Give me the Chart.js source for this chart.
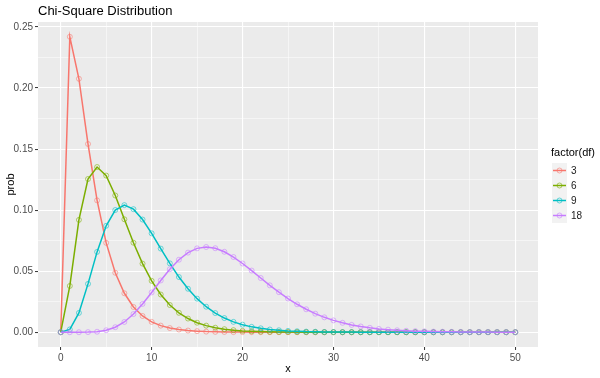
<!DOCTYPE html>
<html>
<head>
<meta charset="utf-8">
<script src="https://cdn.jsdelivr.net/npm/chart.js@4"></script>
<style>
  html, body { margin: 0; padding: 0; background: #fff; }
  canvas { display: block; }
</style>
</head>
<body>
<canvas id="chart" width="600" height="378"></canvas>
<script>
// x values 0..50 (one point per integer)
const xs = [0,1,2,3,4,5,6,7,8,9,10,11,12,13,14,15,16,17,18,19,20,21,22,23,24,25,
  26,27,28,29,30,31,32,33,34,35,36,37,38,39,40,41,42,43,44,45,46,47,48,49,50];

const dfLabels = ["3", "6", "9", "18"];
const dfColors = ["#F8766D", "#7CAE00", "#00BFC4", "#C77CFF"];

// prob
const prob3 = [0, 0.242, 0.2076, 0.1542, 0.108, 0.0732, 0.0487, 0.0319, 0.0207, 0.0133,
  0.0085, 0.0054, 0.0034, 0.0022, 0.0014, 0.0009, 0.0005, 0.0003, 0.0002, 0.0001,
  0.0001, 0.00005, 0.00003, 0.00002, 0.00001, 0.00001, 0, 0, 0, 0,
  0, 0, 0, 0, 0, 0, 0, 0, 0, 0, 0, 0, 0, 0, 0, 0, 0, 0, 0, 0, 0];
const prob6 = [0, 0.0379, 0.092, 0.1255, 0.1353, 0.1283, 0.112, 0.0925, 0.0733, 0.0562,
  0.0421, 0.0309, 0.0223, 0.0159, 0.0112, 0.0078, 0.0054, 0.0037, 0.0025, 0.0017,
  0.0011, 0.0008, 0.0005, 0.0003, 0.0002, 0.00015, 0.0001, 0.00006, 0.00004, 0.00003,
  0.00002, 0.00001, 0, 0, 0, 0, 0, 0, 0, 0, 0, 0, 0, 0, 0, 0, 0, 0, 0, 0, 0];
const prob9 = [0, 0.0023, 0.0158, 0.0396, 0.0658, 0.0872, 0.1001, 0.1041, 0.1008, 0.0923,
  0.081, 0.0685, 0.0564, 0.0452, 0.0356, 0.0275, 0.0209, 0.0157, 0.0116, 0.0085,
  0.0062, 0.0044, 0.0032, 0.0022, 0.0016, 0.0011, 0.0008, 0.0005, 0.0004, 0.0002,
  0.0002, 0.0001, 0.0001, 0.00005, 0.00003, 0.00002, 0.00001, 0.00001, 0, 0,
  0, 0, 0, 0, 0, 0, 0, 0, 0, 0, 0];
const prob18 = [0, 0, 0, 0.0001, 0.0004, 0.0016, 0.0041, 0.0084, 0.0149, 0.0232,
  0.0326, 0.0424, 0.0516, 0.0594, 0.0652, 0.0687, 0.0698, 0.0688, 0.0659, 0.0616,
  0.0563, 0.0505, 0.0444, 0.0384, 0.0328, 0.0276, 0.0229, 0.0188, 0.0152, 0.0122,
  0.0097, 0.0077, 0.006, 0.0047, 0.0036, 0.0027, 0.0021, 0.0016, 0.0012, 0.0009,
  0.0007, 0.0005, 0.0004, 0.0003, 0.0002, 0.0001, 0.0001, 0.0001, 0.00005, 0.00004, 0.00003];

const xTicks = [0, 5, 10, 15, 20, 25, 30, 35, 40, 45, 50];
const yTicks = [0, 0.025, 0.05, 0.075, 0.1, 0.125, 0.15, 0.175, 0.2, 0.225, 0.25];

const series = [prob3, prob6, prob9, prob18];

const alpha = (hex, a) => {
  const n = parseInt(hex.slice(1), 16);
  return `rgba(${n >> 16},${(n >> 8) & 255},${n & 255},${a})`;
};

const isMajorX = v => Math.abs(v % 10) < 1e-9;
const isMajorY = v => Math.abs(Math.round(v * 1000) % 50) < 1e-6;

// ggplot-ish panel, titles and legend
const ggPlugin = {
  id: "gg",
  beforeDraw(chart) {
    const { ctx, chartArea: a } = chart;
    ctx.save();
    ctx.fillStyle = "#EBEBEB";
    ctx.fillRect(a.left, a.top, a.right - a.left, a.bottom - a.top);
    ctx.restore();
  },
  afterDraw(chart) {
    const { ctx, chartArea: a } = chart;
    ctx.save();
    ctx.fillStyle = "#000";
    ctx.font = "13px 'Liberation Sans', Arial, sans-serif";
    ctx.textBaseline = "alphabetic";
    ctx.textAlign = "left";
    ctx.fillText("Chi-Square Distribution", a.left, 15);

    ctx.font = "11px 'Liberation Sans', Arial, sans-serif";
    ctx.textAlign = "center";
    ctx.textBaseline = "middle";
    ctx.fillText("x", (a.left + a.right) / 2, 369);
    ctx.save();
    ctx.translate(11, (a.top + a.bottom) / 2);
    ctx.rotate(-Math.PI / 2);
    ctx.fillText("prob", 0, 0);
    ctx.restore();

    // legend
    ctx.textAlign = "left";
    ctx.fillText("factor(df)", 551, 153);
    ctx.font = "10px 'Liberation Sans', Arial, sans-serif";
    dfLabels.forEach((lab, i) => {
      const cy = 170 + i * 15;
      ctx.fillStyle = "#F2F2F2";
      ctx.fillRect(552, cy - 7, 15, 15);
      ctx.strokeStyle = dfColors[i];
      ctx.lineWidth = 1.5;
      ctx.beginPath();
      ctx.moveTo(553, cy + 0.5);
      ctx.lineTo(566, cy + 0.5);
      ctx.stroke();
      ctx.strokeStyle = alpha(dfColors[i], 0.6);
      ctx.lineWidth = 1;
      ctx.beginPath();
      ctx.arc(559.5, cy + 0.5, 2.5, 0, Math.PI * 2);
      ctx.stroke();
      ctx.fillStyle = "#1A1A1A";
      ctx.fillText(lab, 571, cy + 1);
    });
    ctx.restore();
  }
};

new Chart(document.getElementById("chart"), {
  type: "line",
  data: {
    datasets: series.map((vals, i) => ({
      label: dfLabels[i],
      data: xs.map((x, j) => ({ x, y: vals[j] })),
      borderColor: dfColors[i],
      borderWidth: 1.5,
      pointRadius: 2.5,
      pointBorderWidth: 1,
      pointBorderColor: alpha(dfColors[i], 0.55),
      pointBackgroundColor: "rgba(0,0,0,0)",
      tension: 0,
      fill: false,
      order: 4 - i
    }))
  },
  options: {
    responsive: false,
    animation: false,
    layout: { padding: { left: 0, top: 22, right: 62, bottom: 0 } },
    plugins: { legend: { display: false }, title: { display: false }, tooltip: { enabled: false } },
    scales: {
      x: {
        type: "linear",
        min: -2.5,
        max: 52.5,
        afterBuildTicks: s => { s.ticks = xTicks.map(v => ({ value: v })); },
        afterFit: s => { s.height = 31; },
        border: { display: false },
        grid: {
          color: "#FFFFFF",
          lineWidth: c => (isMajorX(c.tick.value) ? 1.1 : 0.5),
          tickLength: 3,
          tickColor: c => (isMajorX(c.tick.value) ? "#333333" : "rgba(0,0,0,0)"),
          tickWidth: 1
        },
        ticks: {
          autoSkip: false,
          maxRotation: 0,
          padding: 2,
          color: "#4D4D4D",
          font: { family: "'Liberation Sans', Arial, sans-serif", size: 10 },
          callback: v => (isMajorX(v) ? String(v) : "")
        }
      },
      y: {
        type: "linear",
        min: -0.0121,
        max: 0.2541,
        afterBuildTicks: s => { s.ticks = yTicks.map(v => ({ value: v })); },
        afterFit: s => { s.width = 38; },
        border: { display: false },
        grid: {
          color: "#FFFFFF",
          lineWidth: c => (isMajorY(c.tick.value) ? 1.1 : 0.5),
          tickLength: 3,
          tickColor: c => (isMajorY(c.tick.value) ? "#333333" : "rgba(0,0,0,0)"),
          tickWidth: 1
        },
        ticks: {
          autoSkip: false,
          padding: 2,
          color: "#4D4D4D",
          font: { family: "'Liberation Sans', Arial, sans-serif", size: 10 },
          callback: v => (isMajorY(v) ? v.toFixed(2) : "")
        }
      }
    }
  },
  plugins: [ggPlugin]
});
</script>
</body>
</html>
